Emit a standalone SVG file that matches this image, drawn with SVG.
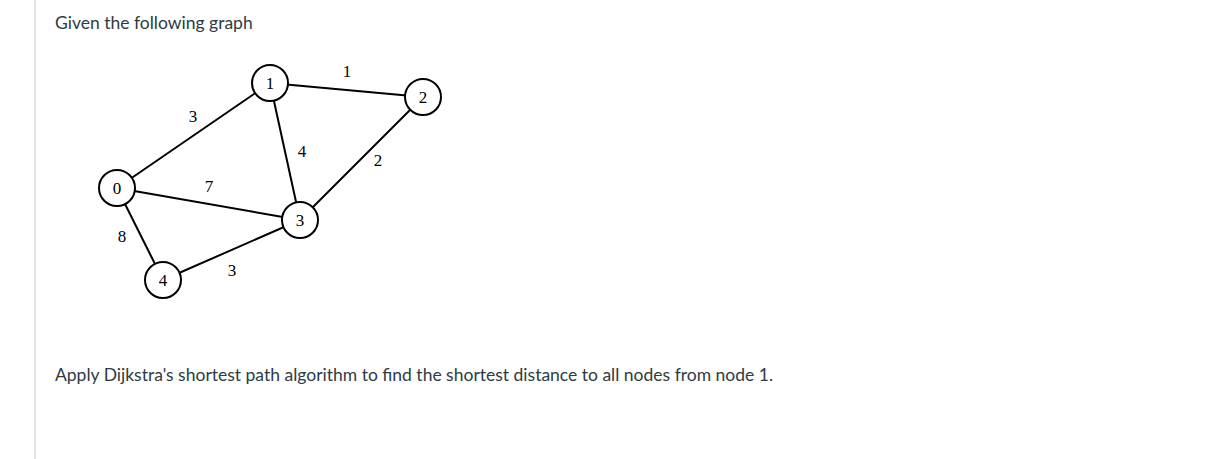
<svg xmlns="http://www.w3.org/2000/svg" width="1212" height="459" viewBox="0 0 1212 459">
<style>
.t{font-family:Lato,"Liberation Sans",sans-serif;font-size:17.5px;fill:#2d3b45}
.n circle{fill:#fff;stroke:#000;stroke-width:2}
.l{font-family:"Liberation Serif",serif;font-size:17px;fill:#000;text-anchor:middle}
#edges line{stroke:#000;stroke-width:2}
</style>
<rect width="1212" height="459" fill="#fff"/>
<line x1="35" y1="0" x2="35" y2="459" stroke="#c7cdd1" stroke-width="1"/>
<text class="t" x="55" y="29">Given the following graph</text>
<g id="edges">
<line x1="117" y1="188" x2="270" y2="83"/>
<line x1="270" y1="83" x2="423" y2="97"/>
<line x1="270" y1="83" x2="300" y2="220"/>
<line x1="423" y1="97" x2="300" y2="220"/>
<line x1="117" y1="188" x2="300" y2="220"/>
<line x1="117" y1="188" x2="163" y2="280"/>
<line x1="163" y1="280" x2="300" y2="220"/>
<text class="l" x="347" y="77">1</text>
<text class="l" x="193" y="122">3</text>
<text class="l" x="302" y="157">4</text>
<text class="l" x="378" y="166">2</text>
<text class="l" x="209" y="192">7</text>
<text class="l" x="122" y="242">8</text>
<text class="l" x="232" y="276">3</text>
</g>
<g id="node0" class="n"><circle cx="117" cy="188" r="18"/><text class="l" x="117" y="194">0</text></g>
<g id="node1" class="n"><circle cx="270" cy="83" r="18"/><text class="l" x="270" y="89">1</text></g>
<g id="node2" class="n"><circle cx="423" cy="97" r="18"/><text class="l" x="423" y="103">2</text></g>
<g id="node3" class="n"><circle cx="300" cy="220" r="18"/><text class="l" x="300" y="226">3</text></g>
<g id="node4" class="n"><circle cx="163" cy="280" r="18"/><text class="l" x="163" y="286">4</text></g>
<text class="t" x="55" y="381">Apply Dijkstra's shortest path algorithm to find the shortest distance to all nodes from node 1.</text>
</svg>
